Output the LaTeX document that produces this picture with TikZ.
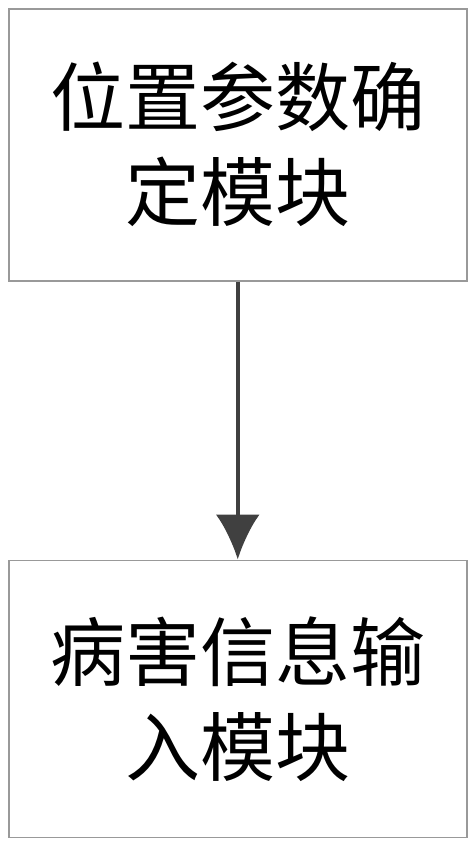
\documentclass[tikz,border=0pt]{standalone}
\usepackage{fontspec}
\newfontfamily\cjk{Noto Sans CJK SC}
\usetikzlibrary{arrows.meta}
\usetikzlibrary{positioning}

\begin{document}
\begin{tikzpicture}[x=1pt,y=1pt,>={Latex[length=45pt,width=44pt]},semithick]
	\tikzstyle{modbox}=[draw=black!40, line width=1.5pt, rectangle, minimum width=458pt, align=center, inner sep=0pt, font=\cjk\fontsize{75pt}{95pt}\selectfont]
	\tikzstyle{link}=[->, draw=black!75, line width=4.5pt]
	\useasboundingbox (0,0) rectangle (474,-844);
	\node[modbox, minimum height=272pt, anchor=north west] (pos) at (8,-8) {位置参数确\\定模块};
	\node[modbox, minimum height=277pt] (info) [below=278pt of pos] {病害信息输\\入模块};
	\path
		(pos) edge[link] (info);
\end{tikzpicture}
\end{document}
